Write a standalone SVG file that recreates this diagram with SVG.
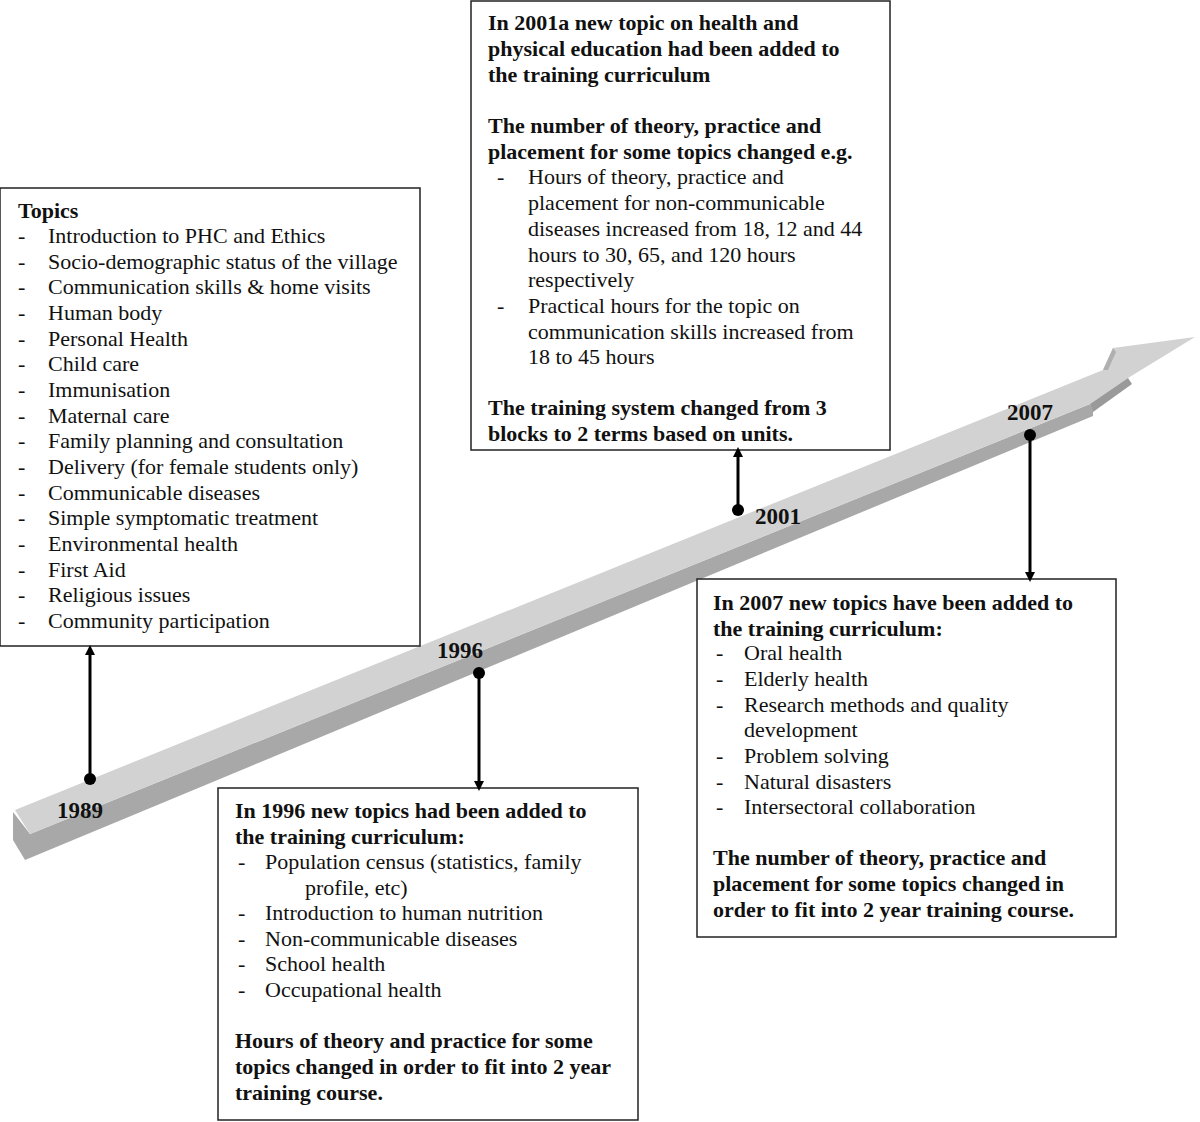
<svg xmlns="http://www.w3.org/2000/svg" width="1200" height="1122" viewBox="0 0 1200 1122">
<style>
text{font-family:"Liberation Serif",serif;font-size:22px;fill:#111}
.b{font-weight:bold}
.y{font-weight:bold;font-size:23px}
.box{fill:#fff;stroke:#222;stroke-width:1.5}
.c{stroke:#000;stroke-width:3;fill:none}
</style>
<defs><marker id="ah" markerWidth="10" markerHeight="10" refX="5" refY="5" orient="auto" markerUnits="userSpaceOnUse" viewBox="0 0 10 10"><path d="M0,0L10,5L0,10z" fill="#000"/></marker></defs>
<g id="timeline-arrow">
<polygon points="13,812 30,834 1090,404 1093,411 1093,416 25,860 13,840" fill="#a8a8a8"/>
<polygon points="15,810 1103,370 1113,348 1195,337 1128,378 1090,404 30,834" fill="#d2d2d2"/>
<polygon points="1090,404 1128,378 1132,384 1093,412" fill="#9a9a9a"/>
<polygon points="1103,370 1113,348 1116,352 1108,370" fill="#b0b0b0"/>
</g>
<g id="box-1989">
<rect class="box" x="0" y="188" width="420" height="458"/>
<text x="18" y="218" class="b">Topics</text>
<text x="18" y="243">-</text><text x="48" y="243">Introduction to PHC and Ethics</text>
<text x="18" y="269">-</text><text x="48" y="269">Socio-demographic status of the village</text>
<text x="18" y="294">-</text><text x="48" y="294">Communication skills &amp; home visits</text>
<text x="18" y="320">-</text><text x="48" y="320">Human body</text>
<text x="18" y="346">-</text><text x="48" y="346">Personal Health</text>
<text x="18" y="371">-</text><text x="48" y="371">Child care</text>
<text x="18" y="397">-</text><text x="48" y="397">Immunisation</text>
<text x="18" y="423">-</text><text x="48" y="423">Maternal care</text>
<text x="18" y="448">-</text><text x="48" y="448">Family planning and consultation</text>
<text x="18" y="474">-</text><text x="48" y="474">Delivery (for female students only)</text>
<text x="18" y="500">-</text><text x="48" y="500">Communicable diseases</text>
<text x="18" y="525">-</text><text x="48" y="525">Simple symptomatic treatment</text>
<text x="18" y="551">-</text><text x="48" y="551">Environmental health</text>
<text x="18" y="577">-</text><text x="48" y="577">First Aid</text>
<text x="18" y="602">-</text><text x="48" y="602">Religious issues</text>
<text x="18" y="628">-</text><text x="48" y="628">Community participation</text>
</g>
<g id="box-2001">
<rect class="box" x="471" y="1" width="419" height="449"/>
<text x="488" y="30" class="b">In 2001a new topic on health and</text>
<text x="488" y="56" class="b">physical education had been added to</text>
<text x="488" y="82" class="b">the training curriculum</text>
<text x="488" y="133" class="b">The number of theory, practice and</text>
<text x="488" y="159" class="b">placement for some topics changed e.g.</text>
<text x="497" y="184">-</text><text x="528" y="184">Hours of theory, practice and</text>
<text x="528" y="210">placement for non-communicable</text>
<text x="528" y="236">diseases increased from 18, 12 and 44</text>
<text x="528" y="262">hours to 30, 65, and 120 hours</text>
<text x="528" y="287">respectively</text>
<text x="497" y="313">-</text><text x="528" y="313">Practical hours for the topic on</text>
<text x="528" y="339">communication skills increased from</text>
<text x="528" y="364">18 to 45 hours</text>
<text x="488" y="415" class="b">The training system changed from 3</text>
<text x="488" y="441" class="b">blocks to 2 terms based on units.</text>
</g>
<g id="box-1996">
<rect class="box" x="218" y="788" width="420" height="332"/>
<text x="235" y="818" class="b">In 1996 new topics had been added to</text>
<text x="235" y="844" class="b">the training curriculum:</text>
<text x="238" y="869">-</text><text x="265" y="869">Population census (statistics, family</text>
<text x="305" y="895">profile, etc)</text>
<text x="238" y="920">-</text><text x="265" y="920">Introduction to human nutrition</text>
<text x="238" y="946">-</text><text x="265" y="946">Non-communicable diseases</text>
<text x="238" y="971">-</text><text x="265" y="971">School health</text>
<text x="238" y="997">-</text><text x="265" y="997">Occupational health</text>
<text x="235" y="1048" class="b">Hours of theory and practice for some</text>
<text x="235" y="1074" class="b">topics changed in order to fit into 2 year</text>
<text x="235" y="1100" class="b">training course.</text>
</g>
<g id="box-2007">
<rect class="box" x="697" y="579" width="419" height="358"/>
<text x="713" y="610" class="b">In 2007 new topics have been added to</text>
<text x="713" y="636" class="b">the training curriculum:</text>
<text x="716" y="660">-</text><text x="744" y="660">Oral health</text>
<text x="716" y="686">-</text><text x="744" y="686">Elderly health</text>
<text x="716" y="712">-</text><text x="744" y="712">Research methods and quality</text>
<text x="744" y="737">development</text>
<text x="716" y="763">-</text><text x="744" y="763">Problem solving</text>
<text x="716" y="789">-</text><text x="744" y="789">Natural disasters</text>
<text x="716" y="814">-</text><text x="744" y="814">Intersectoral collaboration</text>
<text x="713" y="865" class="b">The number of theory, practice and</text>
<text x="713" y="891" class="b">placement for some topics changed in</text>
<text x="713" y="917" class="b">order to fit into 2 year training course.</text>
</g>
<g id="connectors">
<line class="c" x1="90" y1="779" x2="90" y2="650" marker-end="url(#ah)"/>
<circle cx="90" cy="779" r="6"/>
<line class="c" x1="479" y1="673" x2="479" y2="786" marker-end="url(#ah)"/>
<circle cx="479" cy="673" r="6"/>
<line class="c" x1="738" y1="510" x2="738" y2="452" marker-end="url(#ah)"/>
<circle cx="738" cy="510" r="6"/>
<line class="c" x1="1030" y1="435" x2="1030" y2="577" marker-end="url(#ah)"/>
<circle cx="1030" cy="435" r="6"/>
</g>
<g id="year-labels">
<text x="57" y="818" class="y">1989</text>
<text x="437" y="658" class="y">1996</text>
<text x="755" y="524" class="y">2001</text>
<text x="1007" y="420" class="y">2007</text>
</g>
</svg>
